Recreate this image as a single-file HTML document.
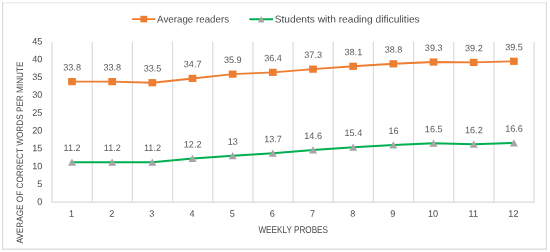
<!DOCTYPE html><html><head><meta charset="utf-8"><title>chart</title><style>html,body{margin:0;padding:0;background:#fff}svg{display:block}text{font-family:"Liberation Sans",sans-serif}</style></head><body>
<svg width="550" height="252" viewBox="0 0 550 252">
<rect x="0" y="0" width="550" height="252" fill="#fff"/>
<path d="M2 2.8H547" stroke="#efefef" stroke-width="1.4"/>
<path d="M2.6 2V249.5" stroke="#dcdcdc" stroke-width="1.2"/>
<path d="M546.35 2V249.5" stroke="#dddddd" stroke-width="1.2"/>
<path d="M2 249.15H547" stroke="#dedede" stroke-width="1.5"/>
<path d="M52.05 41.70V202.60M92.22 41.70V202.60M132.39 41.70V202.60M172.56 41.70V202.60M212.73 41.70V202.60M252.90 41.70V202.60M293.07 41.70V202.60M333.24 41.70V202.60M373.41 41.70V202.60M413.58 41.70V202.60M453.75 41.70V202.60M493.92 41.70V202.60M534.09 41.70V202.60M51.55 202.10H534.59" stroke="#dcdcdc" stroke-width="1.2" fill="none"/>
<g fill="#484848">
<text transform="translate(42.40 204.80) rotate(0.03) scale(0.98 1)" text-anchor="end" font-size="9.3">0</text>
<text transform="translate(42.40 186.98) rotate(0.03) scale(0.98 1)" text-anchor="end" font-size="9.3">5</text>
<text transform="translate(42.40 169.16) rotate(0.03) scale(0.98 1)" text-anchor="end" font-size="9.3">10</text>
<text transform="translate(42.40 151.33) rotate(0.03) scale(0.98 1)" text-anchor="end" font-size="9.3">15</text>
<text transform="translate(42.40 133.51) rotate(0.03) scale(0.98 1)" text-anchor="end" font-size="9.3">20</text>
<text transform="translate(42.40 115.69) rotate(0.03) scale(0.98 1)" text-anchor="end" font-size="9.3">25</text>
<text transform="translate(42.40 97.87) rotate(0.03) scale(0.98 1)" text-anchor="end" font-size="9.3">30</text>
<text transform="translate(42.40 80.04) rotate(0.03) scale(0.98 1)" text-anchor="end" font-size="9.3">35</text>
<text transform="translate(42.40 62.22) rotate(0.03) scale(0.98 1)" text-anchor="end" font-size="9.3">40</text>
<text transform="translate(42.40 44.40) rotate(0.03) scale(0.98 1)" text-anchor="end" font-size="9.3">45</text>
<text transform="translate(71.53 216.85) rotate(0.03) scale(0.98 1)" text-anchor="middle" font-size="9.3">1</text>
<text transform="translate(111.71 216.85) rotate(0.03) scale(0.98 1)" text-anchor="middle" font-size="9.3">2</text>
<text transform="translate(151.88 216.85) rotate(0.03) scale(0.98 1)" text-anchor="middle" font-size="9.3">3</text>
<text transform="translate(192.04 216.85) rotate(0.03) scale(0.98 1)" text-anchor="middle" font-size="9.3">4</text>
<text transform="translate(232.22 216.85) rotate(0.03) scale(0.98 1)" text-anchor="middle" font-size="9.3">5</text>
<text transform="translate(272.38 216.85) rotate(0.03) scale(0.98 1)" text-anchor="middle" font-size="9.3">6</text>
<text transform="translate(312.56 216.85) rotate(0.03) scale(0.98 1)" text-anchor="middle" font-size="9.3">7</text>
<text transform="translate(352.73 216.85) rotate(0.03) scale(0.98 1)" text-anchor="middle" font-size="9.3">8</text>
<text transform="translate(392.89 216.85) rotate(0.03) scale(0.98 1)" text-anchor="middle" font-size="9.3">9</text>
<text transform="translate(433.06 216.85) rotate(0.03) scale(0.98 1)" text-anchor="middle" font-size="9.3">10</text>
<text transform="translate(473.24 216.85) rotate(0.03) scale(0.98 1)" text-anchor="middle" font-size="9.3">11</text>
<text transform="translate(513.40 216.85) rotate(0.03) scale(0.98 1)" text-anchor="middle" font-size="9.3">12</text>
</g>
<text transform="translate(293.2 232.6) rotate(0.03)" font-size="9.8" fill="#484848" text-anchor="middle" textLength="69.6" lengthAdjust="spacingAndGlyphs">WEEKLY PROBES</text>
<text transform="translate(23.1 152.5) rotate(-90.03)" font-size="9.3" fill="#484848" text-anchor="middle" textLength="182" lengthAdjust="spacingAndGlyphs">AVERAGE OF CORRECT WORDS PER MINUTE</text>
<polyline points="72.13,81.62 112.31,81.62 152.48,82.69 192.64,78.41 232.81,74.14 272.99,72.35 313.16,69.15 353.33,66.29 393.50,63.80 433.67,62.02 473.84,62.37 514.00,61.30" fill="none" stroke="#ed7d31" stroke-width="1.95" stroke-linejoin="round" stroke-linecap="round"/>
<polyline points="72.13,162.18 112.31,162.18 152.48,162.18 192.64,158.61 232.81,155.76 272.99,153.27 313.16,150.06 353.33,147.21 393.50,145.07 433.67,143.29 473.84,144.36 514.00,142.93" fill="none" stroke="#00b050" stroke-width="2.0" stroke-linejoin="round" stroke-linecap="round"/>
<rect x="68.13" y="78.02" width="7.7" height="7.2" fill="#ed7d31"/>
<rect x="108.31" y="78.02" width="7.7" height="7.2" fill="#ed7d31"/>
<rect x="148.48" y="79.09" width="7.7" height="7.2" fill="#ed7d31"/>
<rect x="188.64" y="74.81" width="7.7" height="7.2" fill="#ed7d31"/>
<rect x="228.81" y="70.54" width="7.7" height="7.2" fill="#ed7d31"/>
<rect x="268.99" y="68.75" width="7.7" height="7.2" fill="#ed7d31"/>
<rect x="309.16" y="65.55" width="7.7" height="7.2" fill="#ed7d31"/>
<rect x="349.33" y="62.69" width="7.7" height="7.2" fill="#ed7d31"/>
<rect x="389.50" y="60.20" width="7.7" height="7.2" fill="#ed7d31"/>
<rect x="429.67" y="58.42" width="7.7" height="7.2" fill="#ed7d31"/>
<rect x="469.84" y="58.77" width="7.7" height="7.2" fill="#ed7d31"/>
<rect x="510.00" y="57.70" width="7.7" height="7.2" fill="#ed7d31"/>
<path d="M71.93 158.38L76.03 165.68H68.03Z" fill="#a5a5a5"/>
<path d="M112.11 158.38L116.21 165.68H108.21Z" fill="#a5a5a5"/>
<path d="M152.28 158.38L156.38 165.68H148.38Z" fill="#a5a5a5"/>
<path d="M192.44 154.81L196.54 162.11H188.54Z" fill="#a5a5a5"/>
<path d="M232.62 151.96L236.72 159.26H228.72Z" fill="#a5a5a5"/>
<path d="M272.79 149.47L276.88 156.77H268.88Z" fill="#a5a5a5"/>
<path d="M312.96 146.26L317.06 153.56H309.06Z" fill="#a5a5a5"/>
<path d="M353.13 143.41L357.23 150.71H349.23Z" fill="#a5a5a5"/>
<path d="M393.30 141.27L397.39 148.57H389.39Z" fill="#a5a5a5"/>
<path d="M433.47 139.49L437.56 146.79H429.56Z" fill="#a5a5a5"/>
<path d="M473.64 140.56L477.74 147.86H469.74Z" fill="#a5a5a5"/>
<path d="M513.80 139.13L517.90 146.43H509.90Z" fill="#a5a5a5"/>
<g fill="#5a5a5a">
<text transform="translate(72.13 70.52) rotate(0.03) scale(0.98 1)" text-anchor="middle" font-size="9.3">33.8</text>
<text transform="translate(112.31 70.52) rotate(0.03) scale(0.98 1)" text-anchor="middle" font-size="9.3">33.8</text>
<text transform="translate(152.48 71.59) rotate(0.03) scale(0.98 1)" text-anchor="middle" font-size="9.3">33.5</text>
<text transform="translate(192.64 67.31) rotate(0.03) scale(0.98 1)" text-anchor="middle" font-size="9.3">34.7</text>
<text transform="translate(232.81 63.04) rotate(0.03) scale(0.98 1)" text-anchor="middle" font-size="9.3">35.9</text>
<text transform="translate(272.99 61.25) rotate(0.03) scale(0.98 1)" text-anchor="middle" font-size="9.3">36.4</text>
<text transform="translate(313.16 58.05) rotate(0.03) scale(0.98 1)" text-anchor="middle" font-size="9.3">37.3</text>
<text transform="translate(353.33 55.19) rotate(0.03) scale(0.98 1)" text-anchor="middle" font-size="9.3">38.1</text>
<text transform="translate(393.50 52.70) rotate(0.03) scale(0.98 1)" text-anchor="middle" font-size="9.3">38.8</text>
<text transform="translate(433.67 50.92) rotate(0.03) scale(0.98 1)" text-anchor="middle" font-size="9.3">39.3</text>
<text transform="translate(473.84 51.27) rotate(0.03) scale(0.98 1)" text-anchor="middle" font-size="9.3">39.2</text>
<text transform="translate(514.00 50.20) rotate(0.03) scale(0.98 1)" text-anchor="middle" font-size="9.3">39.5</text>
<text transform="translate(72.13 151.08) rotate(0.03) scale(0.98 1)" text-anchor="middle" font-size="9.3">11.2</text>
<text transform="translate(112.31 151.08) rotate(0.03) scale(0.98 1)" text-anchor="middle" font-size="9.3">11.2</text>
<text transform="translate(152.48 151.08) rotate(0.03) scale(0.98 1)" text-anchor="middle" font-size="9.3">11.2</text>
<text transform="translate(192.64 147.51) rotate(0.03) scale(0.98 1)" text-anchor="middle" font-size="9.3">12.2</text>
<text transform="translate(232.81 144.66) rotate(0.03) scale(0.98 1)" text-anchor="middle" font-size="9.3">13</text>
<text transform="translate(272.99 142.17) rotate(0.03) scale(0.98 1)" text-anchor="middle" font-size="9.3">13.7</text>
<text transform="translate(313.16 138.96) rotate(0.03) scale(0.98 1)" text-anchor="middle" font-size="9.3">14.6</text>
<text transform="translate(353.33 136.11) rotate(0.03) scale(0.98 1)" text-anchor="middle" font-size="9.3">15.4</text>
<text transform="translate(393.50 133.97) rotate(0.03) scale(0.98 1)" text-anchor="middle" font-size="9.3">16</text>
<text transform="translate(433.67 132.19) rotate(0.03) scale(0.98 1)" text-anchor="middle" font-size="9.3">16.5</text>
<text transform="translate(473.84 133.26) rotate(0.03) scale(0.98 1)" text-anchor="middle" font-size="9.3">16.2</text>
<text transform="translate(514.00 131.83) rotate(0.03) scale(0.98 1)" text-anchor="middle" font-size="9.3">16.6</text>
</g>
<path d="M132.8 19.15H154.7" stroke="#ed7d31" stroke-width="1.9" stroke-linecap="round"/>
<rect x="140.4" y="15.8" width="6.8" height="6.6" fill="#ed7d31"/>
<text transform="translate(157.1 22.5) rotate(0.03)" font-size="9.9" fill="#484848" textLength="72" lengthAdjust="spacingAndGlyphs">Average readers</text>
<path d="M250.1 19.3H272.3" stroke="#00b050" stroke-width="2" stroke-linecap="round"/>
<path d="M261.25 16.1L264.45 22.4H258.05Z" fill="#a5a5a5"/>
<text transform="translate(274.7 22.5) rotate(0.03)" font-size="9.9" fill="#484848" textLength="145" lengthAdjust="spacingAndGlyphs">Students with reading dificulities</text>
</svg></body></html>
